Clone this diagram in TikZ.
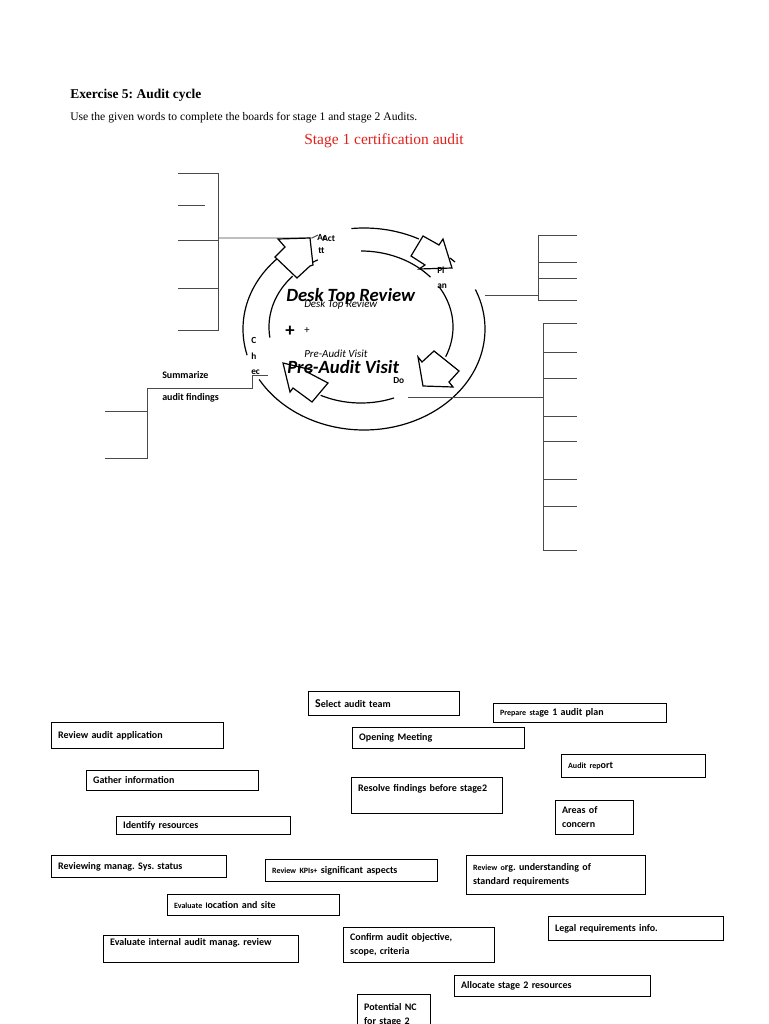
\documentclass[tikz,border=0pt]{standalone}
\usepackage{fontspec}
\setmainfont{Liberation Serif}
\newfontfamily\calibri{Carlito}
\frenchspacing
\definecolor{stagered}{HTML}{E0201B}
\definecolor{boardgray}{HTML}{4A4A4A}
\tikzset{
  board/.style={draw=boardgray, line width=0.7pt},
  ring/.style={line width=0.9pt, samples=60, smooth},
  blockarrow/.style={draw, fill=white, line width=0.9pt, line join=miter},
  cyclelabel/.style={font=\calibri\bfseries\fontsize{7}{8}\selectfont, inner sep=0pt, anchor=west},
  wordbox/.style={draw, line width=0.7pt, anchor=north west, align=left,
    inner xsep=5pt, inner ysep=2pt, font=\calibri\bfseries\fontsize{7.5}{10.5}\selectfont},
  boxdim/.style 2 args={text width=#1*0.75pt-10pt, minimum height=#2*0.75pt},
}
\newcommand{\tinyword}[1]{{\fontsize{6}{7}\selectfont #1}}
\begin{document}
\begin{tikzpicture}[x=0.75pt, y=-0.75pt]
    % 1. Page frame
    \useasboundingbox (0,0) rectangle (768,1024);

    % 2. Heading
    \node[anchor=west, inner sep=0pt, font=\bfseries\fontsize{10.1}{12}\selectfont] (title) at (70,95) {Exercise 5: Audit cycle};
    \node[anchor=west, inner sep=0pt, font=\fontsize{8.7}{10}\selectfont] (instr) at (70,118) {Use the given words to complete the boards for stage 1 and stage 2 Audits.};
    \node[inner sep=0pt, text=stagered, font=\fontsize{11.6}{13}\selectfont] (stagetitle) at (384,141) {Stage 1 certification audit};

    % 3. Ring of the cycle
    % outer ellipse
    \draw[ring, domain=264:297] plot ({364+121*cos(\x)}, {329+101*sin(\x)});
    \draw[ring, domain=337:510] plot ({364+121*cos(\x)}, {329+101*sin(\x)});
    \draw[ring, domain=165:224] plot ({364+121*cos(\x)}, {329+101*sin(\x)});
    % inner ellipse
    \draw[ring, domain=270:319] plot ({361+92*cos(\x)}, {327+76*sin(\x)});
    \draw[ring, domain=236:242] plot ({361+92*cos(\x)}, {327+76*sin(\x)});
    \draw[ring, domain=328:383] plot ({361+92*cos(\x)}, {327+76*sin(\x)});
    \draw[ring, domain=69:116] plot ({361+92*cos(\x)}, {327+76*sin(\x)});
    \draw[ring, domain=172:222] plot ({361+92*cos(\x)}, {327+76*sin(\x)});

    % 4. Boards
    % top left
    \draw[board] (178,173) -- (218,173) -- (218,330) -- (178,330);
    \draw[board] (178,205) -- (205,205);
    \draw[board] (178,240) -- (218,240);
    \draw[board] (178,288) -- (218,288);
    \draw[board] (218,238) -- (312,238) -- (318,235);
    % top right
    \draw[board] (577,235) -- (538,235) -- (538,300) -- (577,300);
    \draw[board] (538,262) -- (577,262);
    \draw[board] (538,278) -- (577,278);
    \draw[board] (485,295) -- (538,295);
    % lower right
    \draw[board] (577,323) -- (543,323) -- (543,550) -- (577,550);
    \foreach \yy in {352,378,416,441,479,506}
        \draw[board] (543,\yy) -- (577,\yy);
    \draw[board] (408,397) -- (543,397);
    % lower left
    \draw[board] (105,411) -- (147,411);
    \draw[board] (105,458) -- (147,458) -- (147,388) -- (252,388) -- (252,375) -- (268,375);

    % 5. Block arrows
    \draw[blockarrow] (278,239) -- (285,247) -- (275,257) -- (297,278) -- (310,266) -- (313,265) -- (310,238) -- cycle;
    \draw[blockarrow] (423,236) -- (439,245) -- (443,239) -- (452,268) -- (419,269) -- (425,265) -- (411,256) -- cycle;
    \draw[line width=0.9pt] (450,258) -- (455,262);
    \draw[blockarrow] (418,357) -- (423,386) -- (453,387) -- (449,382) -- (459,371) -- (434,351) -- (422,362) -- cycle;
    \draw[blockarrow] (283,363) -- (290,392) -- (293,388) -- (312,402) -- (328,383) -- (309,373) -- (312,370) -- cycle;

    % 6. Labels of the cycle
    \node[cyclelabel] (actA) at (317,238) {Ac};
    \node[cyclelabel] (actB) at (322,239) {Act};
    \node[cyclelabel] (actC) at (318,251) {tt};
    \node[cyclelabel] (planA) at (437,270) {Pl};
    \node[cyclelabel] (planB) at (437,286) {an};
    \node[cyclelabel] (doL) at (393,381) {Do};
    \node[cyclelabel] (checkA) at (251,340) {C};
    \node[cyclelabel] (checkB) at (251,356) {h};
    \node[cyclelabel] (checkC) at (251,372) {ec};
    \node[anchor=west, inner sep=0pt, font=\calibri\bfseries\itshape\fontsize{14}{16}\selectfont] (deskbig) at (286,296) {Desk Top Review};
    \node[anchor=west, inner sep=0pt, font=\calibri\itshape\fontsize{8.2}{9}\selectfont] (desksmall) at (304,305) {Desk Top Review};
    \node[anchor=west, inner sep=0pt, font=\calibri\bfseries\fontsize{14}{16}\selectfont] (plusbig) at (285,331) {+};
    \node[anchor=west, inner sep=0pt, font=\calibri\fontsize{8}{9}\selectfont] (plussmall) at (304,331) {+};
    \node[anchor=west, inner sep=0pt, font=\calibri\itshape\fontsize{8.2}{9}\selectfont] (visitsmall) at (304,354) {Pre-Audit Visit};
    \node[anchor=west, inner sep=0pt, font=\calibri\bfseries\itshape\fontsize{14}{16}\selectfont] (visitbig) at (287,367) {Pre-Audit Visit};
    \node[cyclelabel, font=\calibri\bfseries\fontsize{7.5}{9}\selectfont] (summA) at (162,375) {Summarize};
    \node[cyclelabel, font=\calibri\bfseries\fontsize{7.5}{9}\selectfont] (summB) at (162,398) {audit findings};

    % 7. Given words
    \node[wordbox, boxdim={151}{24}] (selteam) at (308,691) {{\fontsize{9}{10}\selectfont S}elect audit team};
    \node[wordbox, boxdim={173}{19}] (prepplan) at (493,703) {\tinyword{Prepare sta}ge 1 audit plan};
    \node[wordbox, boxdim={172}{26}] (reviewapp) at (51,722) {Review audit application};
    \node[wordbox, boxdim={172}{21}] (opening) at (352,727) {Opening Meeting};
    \node[wordbox, boxdim={144}{23}] (report) at (561,754) {\tinyword{Audit rep}ort};
    \node[wordbox, boxdim={172}{20}] (gather) at (86,770) {Gather information};
    \node[wordbox, boxdim={151}{36}] (resolve) at (351,777) {Resolve findings before stage2\\ \mbox{}};
    \node[wordbox, boxdim={78}{34}] (areas) at (555,800) {Areas of\\concern};
    \node[wordbox, boxdim={174}{18}] (identify) at (116,816) {Identify resources};
    \node[wordbox, boxdim={175}{22}] (reviewing) at (51,855) {Reviewing manag. Sys. status};
    \node[wordbox, boxdim={172}{22}] (kpis) at (265,859) {\tinyword{Review KPIs+} significant aspects};
    \node[wordbox, boxdim={179}{39}] (orgund) at (466,855) {\tinyword{Review o}rg. understanding of\\standard requirements};
    \node[wordbox, boxdim={172}{21}] (evalsite) at (167,894) {\tinyword{Evaluate l}ocation and site};
    \node[wordbox, boxdim={175}{24}] (legal) at (548,916) {Legal requirements info.};
    \node[wordbox, boxdim={195}{27}] (evalinternal) at (103,935) {Evaluate internal audit manag. review\\ \mbox{}};
    \node[wordbox, boxdim={151}{35}] (confirm) at (343,927) {Confirm audit objective,\\scope, criteria};
    \node[wordbox, boxdim={196}{21}] (allocate) at (454,975) {Allocate stage 2 resources};
    \node[wordbox, boxdim={73}{40}] (potential) at (357,994) {Potential NC\\for stage 2};
\end{tikzpicture}
\end{document}
